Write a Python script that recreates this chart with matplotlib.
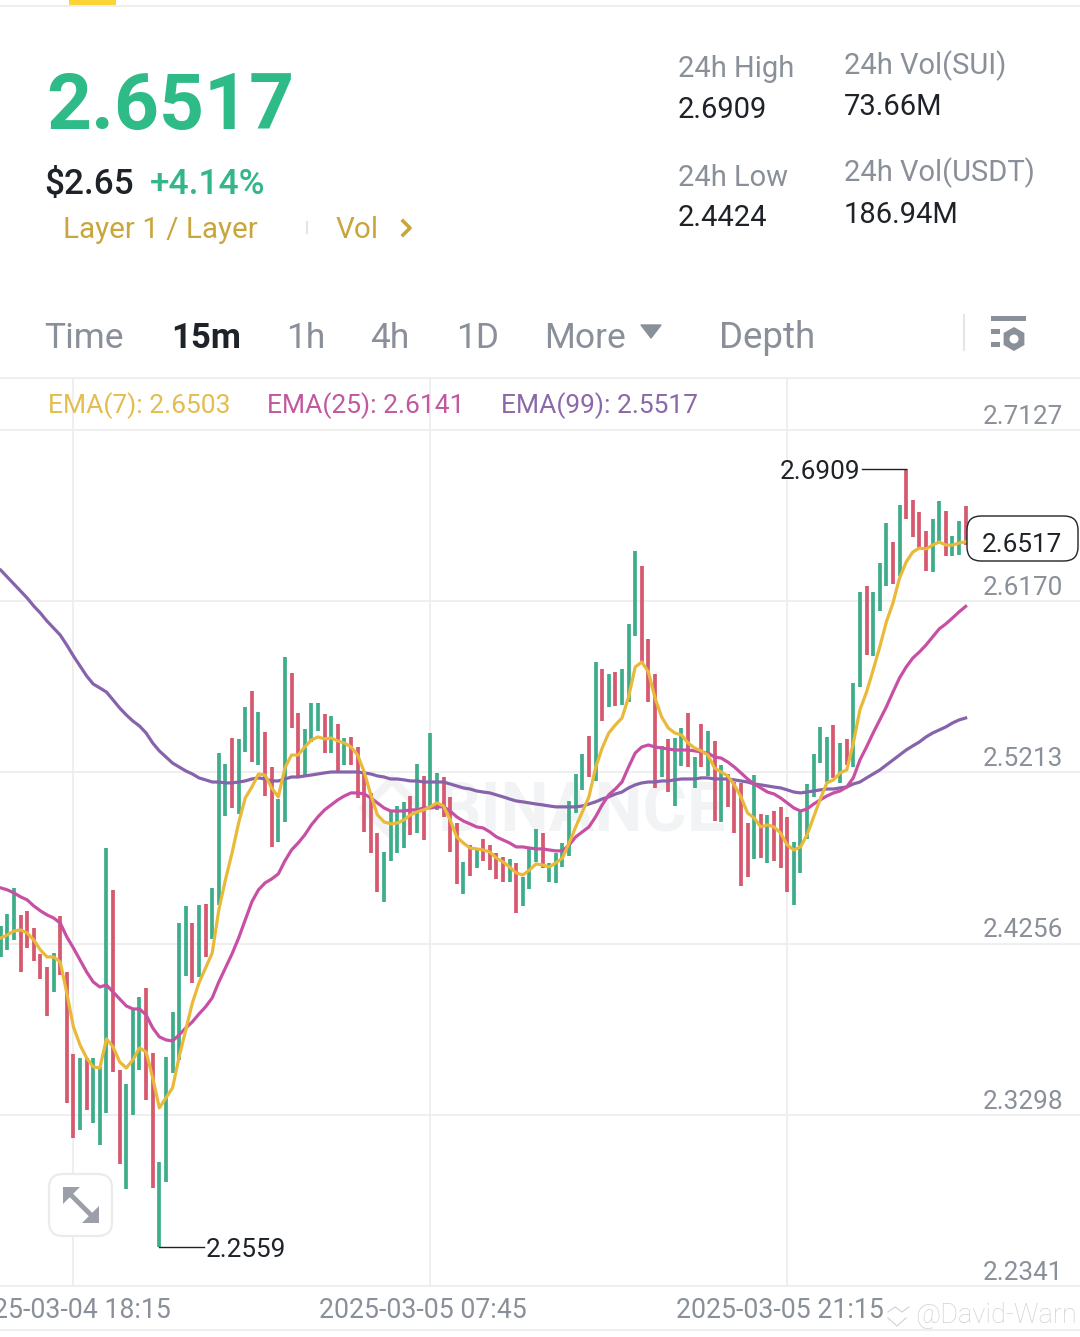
import matplotlib
matplotlib.use("Agg")
from matplotlib import pyplot as plt
from matplotlib.patches import FancyBboxPatch, Polygon, RegularPolygon, Circle, Rectangle

# candle highs / lows, 15m candles
high = [2.4355,2.4422,2.4567,2.4416,2.4439,2.4343,2.4198,2.4125,2.4203,2.4411,
2.4097,2.3639,2.3616,2.3616,2.3616,2.3566,2.4790,2.4556,2.3549,2.3471,
2.3885,2.3958,2.4008,2.3644,2.3035,2.3622,2.3874,2.4371,2.4466,2.4371,
2.4472,2.4477,2.4567,2.5321,2.5260,2.5405,2.5400,2.5579,2.5668,2.5551,
2.5439,2.5243,2.5064,2.5858,2.5769,2.5545,2.5456,2.5601,2.5601,2.5540,
2.5528,2.5484,2.5405,2.5411,2.5355,2.5210,2.5098,2.4874,2.4768,2.4992,
2.5025,2.5048,2.5081,2.5260,2.5193,2.5433,2.5210,2.5188,2.5076,2.4930,
2.4712,2.4807,2.4779,2.4841,2.4807,2.4762,2.4740,2.4729,2.4707,2.4628,
2.4796,2.4897,2.4874,2.4707,2.4762,2.4818,2.5053,2.5204,2.5316,2.5416,
2.5830,2.5791,2.5763,2.5774,2.5791,2.6043,2.6451,2.6367,2.5959,2.5763,
2.5361,2.5400,2.5405,2.5461,2.5545,2.5299,2.5484,2.5444,2.5388,2.5254,
2.5204,2.5159,2.5154,2.4930,2.5198,2.4980,2.4975,2.4997,2.5020,2.4964,
2.4824,2.4992,2.5148,2.5316,2.5467,2.5411,2.5478,2.5377,2.5400,2.5713,
2.6221,2.6255,2.6221,2.6384,2.6607,2.6501,2.6708,2.6909,2.6736,2.6669,
2.6563,2.6630,2.6730,2.6674,2.6534,2.6618,2.6702]
low = [2.4181,2.4220,2.4276,2.4097,2.4231,2.4159,2.4058,2.3851,2.3985,2.4080,
2.3365,2.3169,2.3214,2.3326,2.3253,2.3130,2.3309,2.3538,2.3024,2.2884,
2.3298,2.3549,2.3382,2.2890,2.2559,2.2923,2.3533,2.3605,2.4075,2.4036,
2.4069,2.4181,2.4282,2.4472,2.4969,2.5014,2.4980,2.5327,2.5271,2.5254,
2.5081,2.4796,2.4824,2.4936,2.5461,2.5193,2.5198,2.5383,2.5444,2.5321,
2.5321,2.5221,2.5254,2.5254,2.5070,2.4880,2.4762,2.4544,2.4489,2.4718,
2.4762,2.4790,2.4863,2.4874,2.4835,2.5014,2.5003,2.4964,2.4768,2.4589,
2.4533,2.4634,2.4679,2.4718,2.4667,2.4617,2.4600,2.4600,2.4427,2.4466,
2.4561,2.4712,2.4679,2.4600,2.4595,2.4684,2.4746,2.4986,2.5115,2.5188,
2.5165,2.5500,2.5579,2.5584,2.5590,2.5606,2.5975,2.5830,2.5606,2.5126,
2.5188,2.5103,2.5025,2.5249,2.5243,2.5126,2.5243,2.5193,2.4941,2.4936,
2.5020,2.4874,2.4578,2.4628,2.4729,2.4734,2.4707,2.4718,2.4679,2.4544,
2.4472,2.4651,2.4841,2.5076,2.5265,2.5159,2.5182,2.5154,2.5254,2.5243,
2.5690,2.5869,2.5864,2.6115,2.6255,2.6266,2.6311,2.6630,2.6529,2.6467,
2.6339,2.6333,2.6495,2.6422,2.6422,2.6428,2.6484]
# G = up candle, R = down candle
direction = ("GGGRRRRRGR" "RRGRGGGRRG" "GGRRGGGGGR" "GRGGGRGGRG" "RRGGRRGGGR"
             "GRGRRRRRGG" "GGRGRGGRRR" "GRGRRRRGRG" "GGRGGGGGGR" "GRGRGGGRRR"
             "GRGGRGRGRG" "RRRRGRGRRR" "GGGGGGRGRG" "GRGGGRGRRR" "RGGRGGR")

ema7 = [2.4287,2.4304,2.4326,2.4332,2.4315,2.4276,2.4220,2.4181,2.4181,2.4153,
2.3980,2.3790,2.3689,2.3616,2.3566,2.3560,2.3723,2.3678,2.3594,2.3560,
2.3605,2.3672,2.3650,2.3505,2.3337,2.3393,2.3449,2.3622,2.3773,2.3924,
2.4036,2.4120,2.4203,2.4444,2.4612,2.4762,2.4930,2.5070,2.5131,2.5204,
2.5198,2.5126,2.5076,2.5238,2.5310,2.5310,2.5355,2.5394,2.5411,2.5400,
2.5405,2.5388,2.5377,2.5355,2.5310,2.5215,2.5087,2.4975,2.4936,2.4925,
2.4930,2.4947,2.4975,2.4992,2.5003,2.5020,2.5042,2.5025,2.4947,2.4852,
2.4818,2.4790,2.4785,2.4779,2.4768,2.4734,2.4712,2.4684,2.4651,2.4639,
2.4667,2.4701,2.4695,2.4684,2.4707,2.4734,2.4818,2.4908,2.4992,2.5076,
2.5238,2.5349,2.5433,2.5478,2.5517,2.5634,2.5802,2.5830,2.5774,2.5629,
2.5523,2.5461,2.5433,2.5422,2.5377,2.5349,2.5333,2.5310,2.5238,2.5215,
2.5193,2.5143,2.5076,2.4986,2.4958,2.4908,2.4919,2.4908,2.4874,2.4807,
2.4779,2.4796,2.4863,2.4964,2.5064,2.5154,2.5171,2.5210,2.5226,2.5377,
2.5562,2.5662,2.5785,2.5914,2.6054,2.6160,2.6300,2.6389,2.6445,2.6467,
2.6462,2.6484,2.6501,2.6484,2.6484,2.6495,2.6503]
ema25 = [2.4567,2.4556,2.4539,2.4517,2.4500,2.4466,2.4439,2.4416,2.4399,2.4371,
2.4293,2.4231,2.4164,2.4097,2.4041,2.4013,2.4024,2.3985,2.3946,2.3907,
2.3890,2.3890,2.3857,2.3784,2.3734,2.3717,2.3711,2.3745,2.3784,2.3818,
2.3862,2.3902,2.3952,2.4041,2.4120,2.4198,2.4287,2.4388,2.4489,2.4556,
2.4595,2.4617,2.4645,2.4718,2.4779,2.4818,2.4863,2.4919,2.4964,2.5003,
2.5031,2.5059,2.5081,2.5098,2.5098,2.5092,2.5070,2.5042,2.5014,2.4997,
2.4997,2.4997,2.5003,2.5003,2.5014,2.5014,2.5020,2.5020,2.4997,2.4964,
2.4941,2.4925,2.4908,2.4902,2.4880,2.4852,2.4835,2.4818,2.4796,2.4796,
2.4790,2.4785,2.4785,2.4779,2.4774,2.4774,2.4807,2.4852,2.4880,2.4908,
2.4964,2.5031,2.5087,2.5120,2.5159,2.5243,2.5321,2.5355,2.5366,2.5355,
2.5349,2.5344,2.5338,2.5338,2.5338,2.5333,2.5327,2.5321,2.5299,2.5293,
2.5271,2.5243,2.5210,2.5176,2.5148,2.5126,2.5103,2.5092,2.5070,2.5042,
2.5014,2.4997,2.5008,2.5036,2.5059,2.5081,2.5098,2.5109,2.5131,2.5182,
2.5282,2.5355,2.5433,2.5506,2.5579,2.5662,2.5741,2.5802,2.5852,2.5886,
2.5925,2.5970,2.6015,2.6043,2.6076,2.6110,2.6141]
ema99 = [2.6344,2.6305,2.6266,2.6227,2.6188,2.6143,2.6104,2.6059,2.6020,2.5981,
2.5925,2.5864,2.5808,2.5752,2.5707,2.5685,2.5662,2.5618,2.5573,2.5534,
2.5500,2.5472,2.5433,2.5377,2.5333,2.5299,2.5265,2.5243,2.5221,2.5204,
2.5182,2.5171,2.5159,2.5159,2.5154,2.5154,2.5159,2.5165,2.5176,2.5182,
2.5176,2.5165,2.5165,2.5176,2.5187,2.5187,2.5193,2.5198,2.5204,2.5210,
2.5215,2.5215,2.5215,2.5215,2.5215,2.5210,2.5204,2.5193,2.5187,2.5176,
2.5176,2.5171,2.5165,2.5165,2.5159,2.5159,2.5159,2.5159,2.5148,2.5137,
2.5126,2.5120,2.5109,2.5103,2.5098,2.5087,2.5076,2.5064,2.5053,2.5048,
2.5042,2.5036,2.5031,2.5025,2.5020,2.5020,2.5020,2.5020,2.5025,2.5036,
2.5048,2.5064,2.5076,2.5092,2.5103,2.5126,2.5143,2.5154,2.5159,2.5159,
2.5165,2.5165,2.5171,2.5176,2.5176,2.5176,2.5182,2.5182,2.5176,2.5176,
2.5176,2.5171,2.5165,2.5159,2.5148,2.5143,2.5137,2.5131,2.5126,2.5115,
2.5103,2.5098,2.5103,2.5109,2.5115,2.5120,2.5120,2.5126,2.5131,2.5148,
2.5159,2.5182,2.5204,2.5226,2.5254,2.5282,2.5310,2.5338,2.5361,2.5383,
2.5411,2.5433,2.5450,2.5467,2.5489,2.5506,2.5517]

price_ticks = [2.7127, 2.6170, 2.5213, 2.4256, 2.3298, 2.2341]
time_pos = [11, 65, 119]
time_labels = ["2025-03-04 18:15", "2025-03-05 07:45", "2025-03-05 21:15"]
last_price = "2.6517"
stats = [("24h High", "2.6909"), ("24h Vol(SUI)", "73.66M"), ("24h Low", "2.4424"), ("24h Vol(USDT)", "186.94M")]
tabs = ["Time", "15m", "1h", "4h", "1D", "More", "Depth"]

GREEN = "#3FAD8B"
RED = "#D6596F"
GREY = "#8A9099"
DARK = "#1E2329"
LINE = "#EEEEEE"

plt.rcParams["font.family"] = ["Roboto", "DejaVu Sans"]

W, H = 1080, 1337
fig = plt.figure(figsize=(10.8, 13.37), dpi=100)

# chart area: y 378-1286 px in the picture
ax = fig.add_axes([0, (H - 1286) / H, 1, (1286 - 378) / H])
ax.set_xlim(-0.106, 163.3)
ax.set_ylim(2.2341, 2.7418)
ax.set_xticks(time_pos)
ax.set_yticks(price_ticks)
ax.grid(True, color=LINE, lw=1.3)
ax.set_axisbelow(True)
ax.tick_params(length=0, labelleft=False, labelbottom=False)
for s in ax.spines.values():
    s.set_visible(False)

# whole figure in pixels, for header text and icons
ov = fig.add_axes([0, 0, 1, 1], zorder=5)
ov.set_xlim(0, W)
ov.set_ylim(H, 0)
ov.axis("off")
ov.patch.set_alpha(0)

# watermark goes under the candles
ax.text(438, 832, "BINANCE", transform=ov.transData, fontsize=49, fontweight="bold",
        color="#F2F3F4", zorder=0.5, va="baseline")
ax.add_patch(RegularPolygon((392, 808), 4, radius=28, orientation=0, transform=ov.transData,
                            fill=False, ec="#F2F3F4", lw=6, zorder=0.5))

colors = [GREEN if d == "G" else RED for d in direction]
idx = list(range(len(high)))
ax.vlines(idx, low, high, colors=colors, lw=2.7, capstyle="butt", zorder=2)

ax.plot(idx, ema99, color="#8763AC", lw=2.3, zorder=3)
ax.plot(idx, ema25, color="#C850A4", lw=2.3, zorder=3.1)
ax.plot(idx, ema7, color="#E9B93A", lw=2.3, zorder=3.2)

# high / low markers
hi_i = high.index(max(high))
lo_i = low.index(min(low))
ax.plot([hi_i - 6.7, hi_i], [max(high), max(high)], color=DARK, lw=1, zorder=4)
ax.plot([lo_i, lo_i + 6.7], [min(low), min(low)], color=DARK, lw=1, zorder=4)
ax.annotate(f"{max(high):.4f}", (hi_i - 7, max(high)), xytext=(0, -7), textcoords="offset points",
            ha="right", va="baseline", fontsize=18.8, color=DARK)
ax.annotate(f"{min(low):.4f}", (lo_i + 7, min(low)), xytext=(0, -7), textcoords="offset points",
            ha="left", va="baseline", fontsize=18.8, color=DARK)

for p in price_ticks:
    ax.annotate(f"{p:.4f}", (1, p), xycoords=("axes fraction", "data"), xytext=(-12, 4.5),
                textcoords="offset points", ha="right", va="baseline", fontsize=18.8, color=GREY,
                annotation_clip=False)
for t, lab in zip(time_pos, time_labels):
    ax.annotate(lab, (t, 0), xycoords=("data", "axes fraction"), xytext=(-5, -23),
                textcoords="offset points", ha="center", va="baseline", fontsize=19.2, color=GREY,
                annotation_clip=False)


def txt(x, y, s, size, color, **kw):
    ov.text(x, y, s, fontsize=size, color=color, va="baseline", **kw)


# top strip
ov.add_patch(Rectangle((69, 0), 47, 5, color="#FCD535", lw=0))
ov.plot([0, W], [6, 6], color=LINE, lw=1.5)
ov.plot([0, W], [378, 378], color=LINE, lw=1.3)
ov.plot([0, W], [1286, 1286], color=LINE, lw=1.3)
ov.plot([0, W], [1330, 1330], color=LINE, lw=1.5)

# price block
txt(46, 129, last_price, 56.5, "#2EBB87", fontweight="bold")
txt(44, 194, "$2.65", 25.3, DARK, fontweight="medium")
txt(150, 194, "+4.14%", 25.4, "#34B58A", fontweight="medium")
txt(63, 238, "Layer 1 / Layer", 21.3, "#C9A63C")
txt(336, 238, "Vol", 21.3, "#C9A63C")
ov.plot([307, 307], [222, 233], color="#E6E6E6", lw=1.5)
ov.plot([403, 410, 403], [221, 228, 235], color="#C9A63C", lw=2.6)

stat_xy = [(678, 77, 118), (844, 74, 115), (678, 186, 226), (844, 181, 223)]
for (lab, val), (x, y1, y2) in zip(stats, stat_xy):
    txt(x, y1, lab, 21, GREY)
    txt(x, y2, val, 21, DARK)

# tabs
tab_x = [44, 171, 286, 370, 456, 544, 719]
for name, x in zip(tabs, tab_x):
    if name == "15m":
        txt(x, 348, name, 25, DARK, fontweight="bold")
    elif name == "Depth":
        txt(x, 348, name, 26.5, GREY)
    else:
        txt(x, 348, name, 25.5, GREY)
ov.add_patch(Polygon([(641, 325), (661, 325), (651, 338)], color=GREY, lw=1, joinstyle="round"))
ov.plot([964, 964], [315, 350], color="#E6E6E6", lw=1.5)
ov.add_patch(Rectangle((991, 316), 35, 5, color=GREY, lw=0))
ov.add_patch(Rectangle((991, 329), 9, 5, color=GREY, lw=0))
ov.add_patch(Rectangle((991, 342), 9, 5, color=GREY, lw=0))
ov.add_patch(RegularPolygon((1014, 339), 6, radius=12, color=GREY, lw=0))
ov.add_patch(Circle((1014, 339), 4.5, color="white", lw=0))

# EMA legend
txt(48, 413, "EMA(7): 2.6503", 19, "#E3BD4F")
txt(267, 413, "EMA(25): 2.6141", 19, "#C2589F")
txt(501, 413, "EMA(99): 2.5517", 19, "#8C68A9")

# last price tag
ov.add_patch(FancyBboxPatch((983, 532), 79, 13, boxstyle="round,pad=16,rounding_size=14",
                            fc="white", ec=DARK, lw=1))
txt(982, 552, last_price, 18.8, DARK)

# expand button
ov.add_patch(FancyBboxPatch((58, 1183), 45, 44, boxstyle="round,pad=9,rounding_size=14",
                            fc="white", ec="#EBEBEB", lw=1.6))
ov.add_patch(Polygon([(63, 1187), (80, 1187), (63, 1204)], color="#9BA0A8", lw=0))
ov.plot([70, 80], [1194, 1204], color="#9BA0A8", lw=3.5)
ov.add_patch(Polygon([(99, 1223), (82, 1223), (99, 1206)], color="#9BA0A8", lw=0))
ov.plot([92, 83], [1216, 1207], color="#9BA0A8", lw=3.5)

# author watermark
txt(915, 1323, "@David-Warn", 19.5, "#CFD2D5", fontweight="light")
ov.plot([888, 895, 902, 909], [1312, 1307, 1312, 1307], color="#CFD2D5", lw=0.8)
ov.plot([888, 897, 906], [1318, 1326, 1318], color="#CFD2D5", lw=0.8)

fig.savefig("out.png", dpi=100)
